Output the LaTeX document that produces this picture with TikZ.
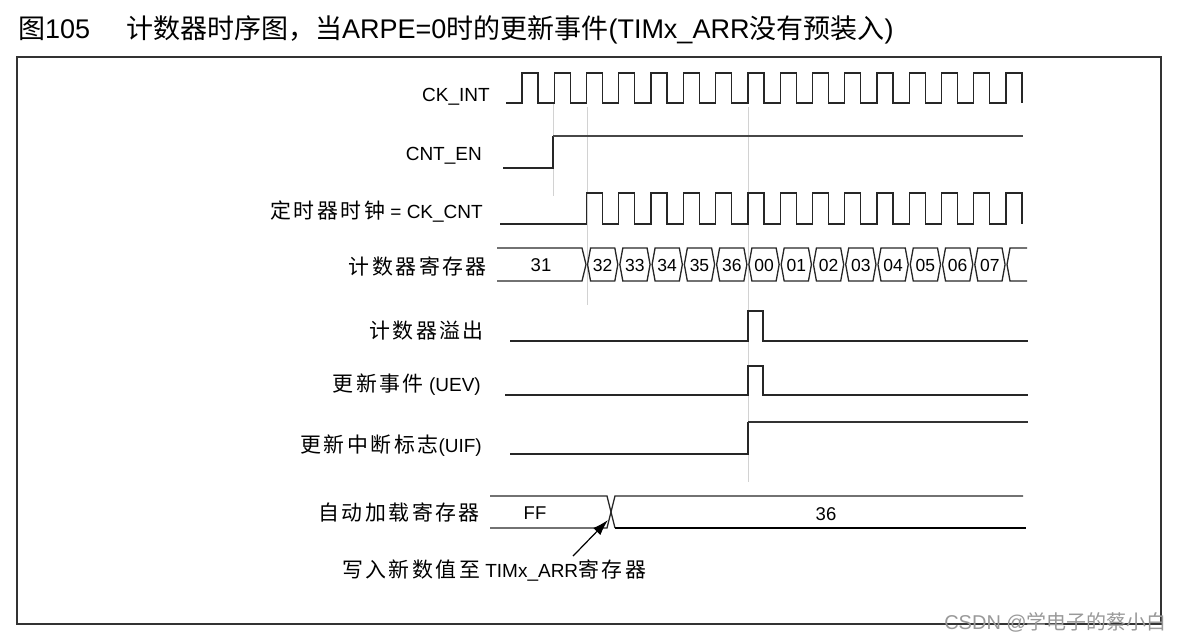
\documentclass[tikz,border=0pt]{standalone}
\usepackage{fontspec}
\setmainfont{Liberation Sans}
\newfontfamily\cjk[LetterSpace=12, Scale=1.1]{Noto Sans CJK SC}
\newfontfamily\cjkt{Noto Sans CJK SC}
\newcommand{\zh}[1]{{\cjk #1}}
\newcommand{\zt}[1]{{\cjkt #1}}
\usetikzlibrary{arrows.meta}

\begin{document}
\begin{tikzpicture}[x=1pt, y=-1pt,
    sig/.style={line width=1.3pt, black!85},
    guide/.style={line width=0.8pt, gray!35},
    lbl/.style={anchor=east, inner sep=0pt, font=\fontsize{19}{22}\selectfont},
    val/.style={inner sep=0pt, font=\fontsize{18.5}{20}\selectfont},
    box/.style={inner sep=0pt, font=\fontsize{17.5}{20}\selectfont}]
    \useasboundingbox (0,0) rectangle (1182,640);
    % title and frame
    \node[anchor=base west, inner sep=0pt, font=\fontsize{27}{32}\selectfont] (fig) at (18,38) {\zt{图}105};
    \node[anchor=base west, inner sep=0pt, font=\fontsize{27}{32}\selectfont] (title) at (126,38)
        {\zt{计数器时序图，当}ARPE=0\zt{时的更新事件}(TIMx\_ARR\zt{没有预装入})};
    \draw[line width=2pt, black!80] (17,57) rectangle (1161,624);
    % guide lines
    \draw[guide] (553,103) -- (553,196);
    \draw[guide] (587,107) -- (587,305);
    \draw[guide] (748,107) -- (748,482);
    % signal names
    \node[lbl] (ckint) at (490,97) {CK\_INT};
    \node[lbl] (cnten) at (482,156) {CNT\_EN};
    \node[lbl] (ckcnt) at (483,212) {\zh{定时器时钟} = CK\_CNT};
    \node[lbl] (cntreg) at (487,267) {\zh{计数器寄存器}};
    \node[lbl] (ovf) at (484,331) {\zh{计数器溢出}};
    \node[lbl] (uev) at (481,385) {\zh{更新事件} (UEV)};
    \node[lbl] (uif) at (482,446) {\zh{更新中断标志}(UIF)};
    \node[lbl] (arr) at (480,513) {\zh{自动加载寄存器}};
    % CK_INT
    \draw[sig] (506,103) \foreach \k in {0,...,15}{
        -- ({522+32.27*\k},103) -- ({522+32.27*\k},73) -- ({538+32.27*\k},73) -- ({538+32.27*\k},103)};
    % CNT_EN
    \draw[sig] (503,168) -- (553,168) -- (553,136);
    \draw[line width=2.8pt, black!72] (553,136) -- (1023,136);
    % CK_CNT
    \draw[sig] (500,224) \foreach \k in {2,...,15}{
        -- ({522+32.27*\k},224) -- ({522+32.27*\k},193) -- ({538+32.27*\k},193) -- ({538+32.27*\k},224)};
    % counter register
    \draw[sig] (497,248) -- (582,248) -- (586,264.5) -- (582,281) -- (497,281);
    \node[val] (c1) at (541,265) {31};
    \foreach \v [count=\i from 2] in {32,33,34,35,36,00,01,02,03,04,05,06,07}{
        \pgfmathsetmacro\xa{522+32.27*\i}
        \pgfmathsetmacro\xb{\xa+32.27}
        \draw[sig] (\xa+1,264.5) -- (\xa+4,248) -- (\xb-4,248) -- (\xb-1,264.5) -- (\xb-4,281) -- (\xa+4,281) -- cycle;
        \node[box] (c\i) at ({(\xa+\xb)/2},265) {\v};
    }
    \draw[sig] (1027,248) -- (1010,248) -- (1007,264.5) -- (1010,281) -- (1027,281);
    % overflow, UEV, UIF
    \draw[sig] (510,341) -- (748,341) -- (748,311) -- (763,311) -- (763,341) -- (1028,341);
    \draw[sig] (505,395) -- (748,395) -- (748,366) -- (763,366) -- (763,395) -- (1028,395);
    \draw[sig] (510,454) -- (748,454) -- (748,422);
    \draw[line width=2pt, black!80] (748,422) -- (1028,422);
    % auto-reload register
    \draw[sig] (490,496) -- (607,496) -- (615,528);
    \draw[sig] (490,528) -- (607,528) -- (615,496) -- (1023,496);
    \draw[line width=2pt, black] (615,528) -- (1026,528);
    \node[val] (ff) at (535,513) {FF};
    \node[val] (nv) at (826,514) {36};
    % write note
    \node[inner sep=0pt, font=\fontsize{19}{22}\selectfont] (note) at (494,571) {\zh{写入新数值至} TIMx\_ARR\zh{寄存器}};
    \coordinate (wr) at (608,520);
    \draw[line width=1.2pt, -{Latex[length=16pt,width=10pt]}] ([xshift=79pt,yshift=4pt]note.north) -- (wr);
    % watermark
    \node[anchor=east, inner sep=0pt, text=gray!80, font=\fontsize{20}{22}\selectfont] (wm) at (1167,622) {CSDN @\zt{学电子的蔡小白}};
\end{tikzpicture}
\end{document}
